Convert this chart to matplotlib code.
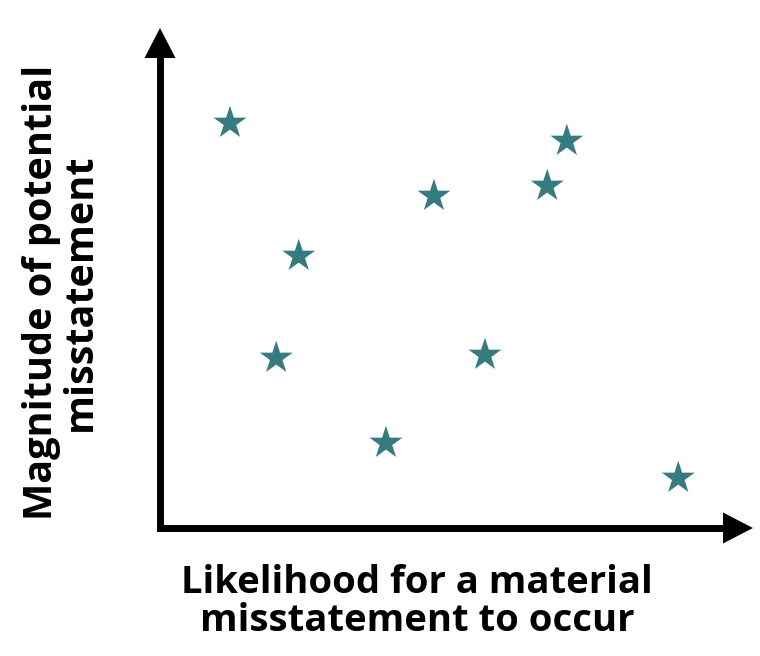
import matplotlib
matplotlib.use("Agg")
from matplotlib import pyplot as plt
from matplotlib.patches import Polygon

# star positions (arbitrary 0-10 units)
likelihood = [1.18, 2.34, 1.96, 3.81, 4.62, 5.48, 6.53, 6.86, 8.74]
magnitude = [8.10, 5.44, 3.40, 1.70, 6.64, 3.46, 6.84, 7.74, 1.00]

x_label = "Likelihood for a material\nmisstatement to occur"
y_label = "Magnitude of potential\nmisstatement"

star_color = "#367b7f"

W, H = 760, 656
fig = plt.figure(figsize=(W / 100, H / 100), dpi=100)
# axes spans from origin (160,528) px to arrow tips (753, 28) px
ax_w, ax_h = 753 - 160, 528 - 28
ax = fig.add_axes([160 / W, 1 - 528 / H, ax_w / W, ax_h / H])
ax.set_xlim(0, 10)
ax.set_ylim(0, 10)
ax.axis("off")

ax.scatter(likelihood, magnitude, marker="*", s=620, color=star_color,
           edgecolors="none", zorder=3)

# axis lines + arrow heads (sizes in px converted to axes fractions)
head_len, head_half = 30, 15.5
lw = 5.0
ax.plot([0, 0], [0, 1 - head_len / ax_h], transform=ax.transAxes,
        color="black", lw=lw, solid_capstyle="projecting", clip_on=False)
ax.plot([0, 1 - head_len / ax_w], [0, 0], transform=ax.transAxes,
        color="black", lw=lw, solid_capstyle="projecting", clip_on=False)
up = Polygon([(-head_half / ax_w, 1 - head_len / ax_h), (0, 1),
              (head_half / ax_w, 1 - head_len / ax_h)],
             closed=True, transform=ax.transAxes, color="black",
             lw=0, clip_on=False)
right = Polygon([(1 - head_len / ax_w, -head_half / ax_h), (1, 0),
                 (1 - head_len / ax_w, head_half / ax_h)],
                closed=True, transform=ax.transAxes, color="black",
                lw=0, clip_on=False)
ax.add_patch(up)
ax.add_patch(right)

fig.text(417 / W, 1 - 602 / H, x_label, ha="center", va="center",
         fontsize=27.5, fontweight="bold", family="Open Sans",
         linespacing=1.0)
fig.text(61 / W, 1 - 292 / H, y_label, ha="center", va="center",
         rotation=90, fontsize=28.5, fontweight="bold", family="Open Sans",
         linespacing=1.0)

fig.savefig("out.png", dpi=100)
